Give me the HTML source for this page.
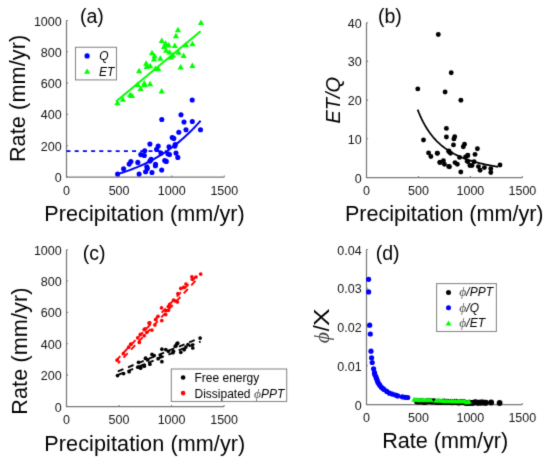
<!DOCTYPE html><html><head><meta charset="utf-8"><style>html,body{margin:0;padding:0;background:#fff}svg{display:block}</style></head><body><svg width="550" height="465" viewBox="0 0 550 465" font-family="'Liberation Sans', sans-serif">
<defs><filter id="bl" x="0" y="0" width="550" height="465" filterUnits="userSpaceOnUse" color-interpolation-filters="sRGB"><feConvolveMatrix order="3" kernelMatrix="0.0144 0.0912 0.0144 0.0912 0.5776 0.0912 0.0144 0.0912 0.0144" edgeMode="duplicate"/></filter></defs>
<rect width="550" height="465" fill="#fff"/>
<g filter="url(#bl)"><rect width="550" height="465" fill="#fff"/>
<path d="M66.5 20.5V177H224.3" fill="none" stroke="#7a7a7a" stroke-width="1.25"/>
<path d="M66.5 177v-1.6M119.1 177v-1.6M171.7 177v-1.6M224.3 177v-1.6M66.5 177h1.6M66.5 145.7h1.6M66.5 114.4h1.6M66.5 83.1h1.6M66.5 51.8h1.6M66.5 20.5h1.6" stroke="#7a7a7a" stroke-width="1.1"/>
<text x="66.5" y="194.6" text-anchor="middle" font-size="12.5" fill="#151515">0</text>
<text x="119.1" y="194.6" text-anchor="middle" font-size="12.5" fill="#151515">500</text>
<text x="171.7" y="194.6" text-anchor="middle" font-size="12.5" fill="#151515">1000</text>
<text x="224.3" y="194.6" text-anchor="middle" font-size="12.5" fill="#151515">1500</text>
<text x="61.7" y="182" text-anchor="end" font-size="12.5" fill="#151515">0</text>
<text x="61.7" y="150.7" text-anchor="end" font-size="12.5" fill="#151515">200</text>
<text x="61.7" y="119.4" text-anchor="end" font-size="12.5" fill="#151515">400</text>
<text x="61.7" y="88.1" text-anchor="end" font-size="12.5" fill="#151515">600</text>
<text x="61.7" y="56.8" text-anchor="end" font-size="12.5" fill="#151515">800</text>
<text x="61.7" y="25.5" text-anchor="end" font-size="12.5" fill="#151515">1000</text>
<path d="M66.5 151.1H166" stroke="#0000ff" stroke-width="1.6" stroke-dasharray="4 4.2"/>
<path d="M116 101.6L200.6 31.2" stroke="#00ff00" stroke-width="2"/>
<path d="M201 19.45L204.15 24.95H197.85ZM178 26.65L181.15 32.15H174.85ZM175.9 32.75L179.05 38.25H172.75ZM161.8 37.45L164.95 42.95H158.65ZM165.5 40.15L168.65 45.65H162.35ZM168.7 42.05L171.85 47.55H165.55ZM174.8 42.55L177.95 48.05H171.65ZM164.1 43.45L167.25 48.95H160.95ZM166.2 47.35L169.35 52.85H163.05ZM178.5 49.35L181.65 54.85H175.35ZM172.8 51.95L175.95 57.45H169.65ZM152 49.75L155.15 55.25H148.85ZM154.6 52.65L157.75 58.15H151.45ZM154 55.95L157.15 61.45H150.85ZM160.3 55.15L163.45 60.65H157.15ZM146.2 60.15L149.35 65.65H143.05ZM146.6 63.55L149.75 69.05H143.45ZM150.2 62.85L153.35 68.35H147.05ZM155.3 65.45L158.45 70.95H152.15ZM158.3 65.85L161.45 71.35H155.15ZM139.1 67.75L142.25 73.25H135.95ZM183.6 52.45L186.75 57.95H180.45ZM186 41.65L189.15 47.15H182.85ZM192.5 40.65L195.65 46.15H189.35ZM180.7 63.95L183.85 69.45H177.55ZM192.4 62.55L195.55 68.05H189.25ZM144.3 80.05L147.45 85.55H141.15ZM144.6 81.85L147.75 87.35H141.45ZM150.1 80.75L153.25 86.25H146.95ZM137.7 81.45L140.85 86.95H134.55ZM140.6 85.45L143.75 90.95H137.45ZM161.7 88.05L164.85 93.55H158.55ZM130.1 91.65L133.25 97.15H126.95ZM131.9 92.45L135.05 97.95H128.75ZM122.9 96.35L126.05 101.85H119.75ZM117.4 99.85L120.55 105.35H114.25ZM169.5 48.95L172.65 54.45H166.35ZM171 53.95L174.15 59.45H167.85Z" fill="#00ff00"/>
<g fill="#0000ff"><circle cx="192.2" cy="100" r="2.55"/><circle cx="181" cy="114.8" r="2.55"/><circle cx="161.8" cy="119.5" r="2.55"/><circle cx="184" cy="122" r="2.55"/><circle cx="192.3" cy="121.5" r="2.55"/><circle cx="186" cy="129.8" r="2.55"/><circle cx="200.5" cy="129.8" r="2.55"/><circle cx="178.8" cy="132.2" r="2.55"/><circle cx="172.2" cy="137.5" r="2.55"/><circle cx="173.8" cy="138.4" r="2.55"/><circle cx="158.2" cy="146.1" r="2.55"/><circle cx="156.6" cy="149.4" r="2.55"/><circle cx="169" cy="146.7" r="2.55"/><circle cx="175.2" cy="144.5" r="2.55"/><circle cx="174.9" cy="146.1" r="2.55"/><circle cx="160.9" cy="153.1" r="2.55"/><circle cx="167.9" cy="153.7" r="2.55"/><circle cx="169.5" cy="154.5" r="2.55"/><circle cx="176" cy="153.1" r="2.55"/><circle cx="177.8" cy="157.4" r="2.55"/><circle cx="164.7" cy="160.6" r="2.55"/><circle cx="166.3" cy="161.4" r="2.55"/><circle cx="155.5" cy="164.4" r="2.55"/><circle cx="161.7" cy="170" r="2.55"/><circle cx="149.9" cy="144.1" r="2.55"/><circle cx="144.7" cy="150.8" r="2.55"/><circle cx="140.8" cy="154.6" r="2.55"/><circle cx="144.3" cy="155.5" r="2.55"/><circle cx="130.9" cy="161.5" r="2.55"/><circle cx="129.2" cy="164.1" r="2.55"/><circle cx="137.8" cy="162.4" r="2.55"/><circle cx="123.6" cy="168.8" r="2.55"/><circle cx="117.6" cy="174" r="2.55"/><circle cx="139.1" cy="174" r="2.55"/><circle cx="151.1" cy="159.4" r="2.55"/><circle cx="149.9" cy="161.1" r="2.55"/><circle cx="155.4" cy="165.8" r="2.55"/><circle cx="146.8" cy="166.7" r="2.55"/><circle cx="147.3" cy="168.4" r="2.55"/><circle cx="145.6" cy="171.8" r="2.55"/><circle cx="152" cy="172.5" r="2.55"/></g>
<path d="M117.6 174.05L119.73 173.41L121.86 172.74L123.98 172.05L126.11 171.33L128.24 170.59L130.37 169.82L132.5 169.02L134.63 168.19L136.75 167.33L138.88 166.44L141.01 165.51L143.14 164.55L145.27 163.55L147.39 162.51L149.52 161.44L151.65 160.32L153.78 159.17L155.91 157.97L158.04 156.73L160.16 155.44L162.29 154.1L164.42 152.72L166.55 151.29L168.68 149.81L170.81 148.28L172.93 146.69L175.06 145.06L177.19 143.36L179.32 141.61L181.45 139.8L183.57 137.94L185.7 136.01L187.83 134.02L189.96 131.97L192.09 129.86L194.22 127.68L196.34 125.43L198.47 123.12L200.6 120.73" fill="none" stroke="#0000ff" stroke-width="2"/>
<rect x="75.5" y="47.3" width="41" height="32.6" fill="#fff" stroke="#8a8a8a" stroke-width="1.1"/>
<g fill="#0000ff"><circle cx="87.1" cy="55.9" r="2.6"/></g>
<path d="M87.1 68.4L90.2 73.8H84Z" fill="#00ff00"/>
<text x="99.3" y="60" font-size="12" font-style="italic" fill="#000">Q</text>
<text x="99.1" y="76" font-size="12" font-style="italic" fill="#000">ET</text>
<text x="79.9" y="22.5" font-size="19.5" fill="#000">(a)</text>
<text x="44.3" y="221.2" font-size="21.6" textLength="200.5" fill="#000">Precipitation (mm/yr)</text>
<text transform="translate(25.3 162.1) rotate(-90)" font-size="21.6" textLength="127.3" fill="#000">Rate (mm/yr)</text>
<path d="M366.5 22.7V177.5H522.4" fill="none" stroke="#7a7a7a" stroke-width="1.25"/>
<path d="M366.5 177.5v-1.6M418.47 177.5v-1.6M470.43 177.5v-1.6M522.4 177.5v-1.6M366.5 177.5h1.6M366.5 138.8h1.6M366.5 100.1h1.6M366.5 61.4h1.6M366.5 22.7h1.6" stroke="#7a7a7a" stroke-width="1.1"/>
<text x="366.5" y="195.1" text-anchor="middle" font-size="12.5" fill="#151515">0</text>
<text x="418.47" y="195.1" text-anchor="middle" font-size="12.5" fill="#151515">500</text>
<text x="470.43" y="195.1" text-anchor="middle" font-size="12.5" fill="#151515">1000</text>
<text x="522.4" y="195.1" text-anchor="middle" font-size="12.5" fill="#151515">1500</text>
<text x="361.7" y="182.5" text-anchor="end" font-size="12.5" fill="#151515">0</text>
<text x="361.7" y="143.8" text-anchor="end" font-size="12.5" fill="#151515">10</text>
<text x="361.7" y="105.1" text-anchor="end" font-size="12.5" fill="#151515">20</text>
<text x="361.7" y="66.4" text-anchor="end" font-size="12.5" fill="#151515">30</text>
<text x="361.7" y="27.7" text-anchor="end" font-size="12.5" fill="#151515">40</text>
<g fill="#000"><circle cx="438.3" cy="34.5" r="2.45"/><circle cx="451.2" cy="72.8" r="2.45"/><circle cx="417.8" cy="88.9" r="2.45"/><circle cx="445.1" cy="92" r="2.45"/><circle cx="460.9" cy="100.2" r="2.45"/><circle cx="446.4" cy="128.4" r="2.45"/><circle cx="446.4" cy="137" r="2.45"/><circle cx="454.7" cy="136.7" r="2.45"/><circle cx="453.9" cy="138.9" r="2.45"/><circle cx="453.5" cy="144.9" r="2.45"/><circle cx="464.5" cy="144.2" r="2.45"/><circle cx="463.3" cy="146.8" r="2.45"/><circle cx="449" cy="151" r="2.45"/><circle cx="450.5" cy="153.2" r="2.45"/><circle cx="467.8" cy="155.1" r="2.45"/><circle cx="465.6" cy="157" r="2.45"/><circle cx="459.6" cy="157.4" r="2.45"/><circle cx="475" cy="154.4" r="2.45"/><circle cx="437.3" cy="153.2" r="2.45"/><circle cx="439.8" cy="162.6" r="2.45"/><circle cx="443.4" cy="160.7" r="2.45"/><circle cx="444.4" cy="164.2" r="2.45"/><circle cx="449.5" cy="166.7" r="2.45"/><circle cx="455" cy="162.6" r="2.45"/><circle cx="457.3" cy="164.2" r="2.45"/><circle cx="460.8" cy="172" r="2.45"/><circle cx="467.9" cy="161.6" r="2.45"/><circle cx="469.9" cy="165.5" r="2.45"/><circle cx="423.5" cy="140" r="2.45"/><circle cx="428.6" cy="152.9" r="2.45"/><circle cx="430.9" cy="156.5" r="2.45"/><circle cx="437.4" cy="153.2" r="2.45"/><circle cx="440" cy="162.3" r="2.45"/><circle cx="448.7" cy="151.6" r="2.45"/><circle cx="448.7" cy="166.4" r="2.45"/><circle cx="477.4" cy="148.8" r="2.45"/><circle cx="467.7" cy="155.8" r="2.45"/><circle cx="467.2" cy="161.2" r="2.45"/><circle cx="472" cy="165.5" r="2.45"/><circle cx="474.1" cy="161.7" r="2.45"/><circle cx="478.4" cy="166.6" r="2.45"/><circle cx="480.1" cy="170.3" r="2.45"/><circle cx="484.4" cy="167.6" r="2.45"/><circle cx="490.8" cy="168.7" r="2.45"/><circle cx="490.8" cy="172.5" r="2.45"/><circle cx="500" cy="165" r="2.45"/></g>
<path d="M417.64 109.58L419 113L420.36 116.16L421.73 119.09L423.09 121.82L424.45 124.36L425.82 126.72L427.18 128.94L428.54 131.01L429.91 132.94L431.27 134.76L432.63 136.47L434 138.08L435.36 139.6L436.72 141.03L438.09 142.38L439.45 143.65L440.81 144.86L442.18 146L443.54 147.08L444.9 148.11L446.27 149.09L447.63 150.02L448.99 150.9L450.36 151.74L451.72 152.54L453.09 153.31L454.45 154.04L455.81 154.73L457.18 155.4L458.54 156.04L459.9 156.65L461.27 157.23L462.63 157.79L463.99 158.33L465.36 158.84L466.72 159.34L468.08 159.81L469.45 160.27L470.81 160.71L472.17 161.13L473.54 161.53L474.9 161.93L476.26 162.3L477.63 162.67L478.99 163.02L480.35 163.35L481.72 163.68L483.08 164L484.44 164.3L485.81 164.59L487.17 164.88L488.54 165.15L489.9 165.42L491.26 165.68L492.63 165.93L493.99 166.17L495.35 166.4L496.72 166.63L498.08 166.85" fill="none" stroke="#000" stroke-width="1.8"/>
<text x="378.0" y="22.5" font-size="19.5" fill="#000">(b)</text>
<text x="345" y="221.2" font-size="21.6" textLength="198.5" fill="#000">Precipitation (mm/yr)</text>
<text transform="translate(339.5 123.5) rotate(-90)" font-size="20" font-style="italic" fill="#000">ET/Q</text>
<path d="M66.5 249.7V406.5H224.1" fill="none" stroke="#7a7a7a" stroke-width="1.25"/>
<path d="M66.5 406.5v-1.6M119.03 406.5v-1.6M171.57 406.5v-1.6M224.1 406.5v-1.6M66.5 406.5h1.6M66.5 375.14h1.6M66.5 343.78h1.6M66.5 312.42h1.6M66.5 281.06h1.6M66.5 249.7h1.6" stroke="#7a7a7a" stroke-width="1.1"/>
<text x="66.5" y="424.1" text-anchor="middle" font-size="12.5" fill="#151515">0</text>
<text x="119.03" y="424.1" text-anchor="middle" font-size="12.5" fill="#151515">500</text>
<text x="171.57" y="424.1" text-anchor="middle" font-size="12.5" fill="#151515">1000</text>
<text x="224.1" y="424.1" text-anchor="middle" font-size="12.5" fill="#151515">1500</text>
<text x="61.7" y="411.5" text-anchor="end" font-size="12.5" fill="#151515">0</text>
<text x="61.7" y="380.14" text-anchor="end" font-size="12.5" fill="#151515">200</text>
<text x="61.7" y="348.78" text-anchor="end" font-size="12.5" fill="#151515">400</text>
<text x="61.7" y="317.42" text-anchor="end" font-size="12.5" fill="#151515">600</text>
<text x="61.7" y="286.06" text-anchor="end" font-size="12.5" fill="#151515">800</text>
<text x="61.7" y="254.7" text-anchor="end" font-size="12.5" fill="#151515">1000</text>
<g fill="none" stroke-width="1.9" stroke-dasharray="6 5">
<path d="M116.2 360.5L199.4 272.9" stroke="#ff0000"/><path d="M118.1 363.4L198.7 277.4" stroke="#ff0000" stroke-dashoffset="3"/>
<path d="M117.8 371.4L201 337.6" stroke="#000"/><path d="M116.5 375.5L200.6 341.6" stroke="#000" stroke-dashoffset="-1"/>
</g>
<g fill="#ff0000"><circle cx="200.7" cy="274.1" r="1.85"/><circle cx="191.9" cy="276.8" r="1.85"/><circle cx="192.4" cy="279.2" r="1.85"/><circle cx="180.8" cy="288.4" r="1.85"/><circle cx="183.7" cy="287.4" r="1.85"/><circle cx="177.9" cy="293.7" r="1.85"/><circle cx="173.6" cy="300" r="1.85"/><circle cx="175.5" cy="301" r="1.85"/><circle cx="177.4" cy="302" r="1.85"/><circle cx="169.7" cy="304.4" r="1.85"/><circle cx="161.5" cy="307.8" r="1.85"/><circle cx="165.8" cy="310.7" r="1.85"/><circle cx="168.3" cy="306.5" r="1.85"/><circle cx="161.8" cy="320.6" r="1.85"/><circle cx="155.8" cy="319.4" r="1.85"/><circle cx="158" cy="316.3" r="1.85"/><circle cx="149.8" cy="322.8" r="1.85"/><circle cx="154.9" cy="325" r="1.85"/><circle cx="151.9" cy="330.1" r="1.85"/><circle cx="145.1" cy="328.8" r="1.85"/><circle cx="146.8" cy="332.3" r="1.85"/><circle cx="144.2" cy="335.7" r="1.85"/><circle cx="140.3" cy="334.4" r="1.85"/><circle cx="137.7" cy="337.8" r="1.85"/><circle cx="165.7" cy="314.6" r="1.85"/><circle cx="168.3" cy="310.3" r="1.85"/><circle cx="149" cy="323.1" r="1.85"/><circle cx="144.2" cy="329.6" r="1.85"/><circle cx="139.3" cy="342.4" r="1.85"/><circle cx="131.1" cy="344.1" r="1.85"/><circle cx="128.7" cy="347.2" r="1.85"/><circle cx="130.7" cy="344.4" r="1.85"/><circle cx="123.3" cy="353.7" r="1.85"/><circle cx="117.2" cy="360.2" r="1.85"/><circle cx="186" cy="284" r="1.85"/><circle cx="196" cy="277" r="1.85"/></g>
<g fill="#000"><circle cx="161.9" cy="349.2" r="1.85"/><circle cx="165.8" cy="349.6" r="1.85"/><circle cx="168.4" cy="351.3" r="1.85"/><circle cx="177" cy="343.6" r="1.85"/><circle cx="175.3" cy="346.2" r="1.85"/><circle cx="173.5" cy="351.3" r="1.85"/><circle cx="152" cy="354.4" r="1.85"/><circle cx="154.2" cy="355.6" r="1.85"/><circle cx="160.6" cy="355.6" r="1.85"/><circle cx="145.6" cy="358.2" r="1.85"/><circle cx="147.7" cy="360" r="1.85"/><circle cx="158.1" cy="358.7" r="1.85"/><circle cx="161.9" cy="361.7" r="1.85"/><circle cx="149.9" cy="364.2" r="1.85"/><circle cx="144.3" cy="365.1" r="1.85"/><circle cx="140.9" cy="367.7" r="1.85"/><circle cx="200.1" cy="338.1" r="1.85"/><circle cx="192.4" cy="345" r="1.85"/><circle cx="192.8" cy="348" r="1.85"/><circle cx="185.9" cy="347.1" r="1.85"/><circle cx="184.2" cy="349.7" r="1.85"/><circle cx="177.7" cy="343.2" r="1.85"/><circle cx="176" cy="345.8" r="1.85"/><circle cx="180.8" cy="352.3" r="1.85"/><circle cx="173" cy="352.7" r="1.85"/><circle cx="117.5" cy="375.6" r="1.85"/><circle cx="123.6" cy="373.6" r="1.85"/><circle cx="129.1" cy="371.7" r="1.85"/><circle cx="138.5" cy="362.3" r="1.85"/><circle cx="137.8" cy="367.2" r="1.85"/><circle cx="140.4" cy="368.1" r="1.85"/><circle cx="144.3" cy="366.2" r="1.85"/><circle cx="145.6" cy="358.5" r="1.85"/><circle cx="188" cy="344.5" r="1.85"/></g>
<rect x="171.3" y="369" width="115.4" height="32.5" fill="#fff" stroke="#8a8a8a" stroke-width="1.1"/>
<g fill="#000"><circle cx="183.1" cy="377.5" r="2.3"/></g>
<g fill="#ff0000"><circle cx="183.1" cy="393.1" r="2.3"/></g>
<text x="194.5" y="381.9" font-size="12" fill="#000">Free energy</text>
<text x="194.5" y="397.7" font-size="12" fill="#000">Dissipated <tspan font-family="Liberation Serif, serif" font-style="italic" font-size="13.5" fill="#555">ϕ</tspan><tspan font-style="italic">PPT</tspan></text>
<text x="82.7" y="260.4" font-size="19.5" fill="#000">(c)</text>
<text x="44.3" y="450.6" font-size="21.6" textLength="201" fill="#000">Precipitation (mm/yr)</text>
<text transform="translate(26.7 414.8) rotate(-90)" font-size="21.6" textLength="127.3" fill="#000">Rate (mm/yr)</text>
<path d="M366.5 249.5V404.5H522.3" fill="none" stroke="#7a7a7a" stroke-width="1.25"/>
<path d="M366.5 404.5v-1.6M418.43 404.5v-1.6M470.37 404.5v-1.6M522.3 404.5v-1.6M366.5 404.5h1.6M366.5 365.75h1.6M366.5 327h1.6M366.5 288.25h1.6M366.5 249.5h1.6" stroke="#7a7a7a" stroke-width="1.1"/>
<text x="366.5" y="422.1" text-anchor="middle" font-size="12.5" fill="#151515">0</text>
<text x="418.43" y="422.1" text-anchor="middle" font-size="12.5" fill="#151515">500</text>
<text x="470.37" y="422.1" text-anchor="middle" font-size="12.5" fill="#151515">1000</text>
<text x="522.3" y="422.1" text-anchor="middle" font-size="12.5" fill="#151515">1500</text>
<text x="361.7" y="409.5" text-anchor="end" font-size="12.5" fill="#151515">0</text>
<text x="361.7" y="370.75" text-anchor="end" font-size="12.5" fill="#151515">0.01</text>
<text x="361.7" y="332" text-anchor="end" font-size="12.5" fill="#151515">0.02</text>
<text x="361.7" y="293.25" text-anchor="end" font-size="12.5" fill="#151515">0.03</text>
<text x="361.7" y="254.5" text-anchor="end" font-size="12.5" fill="#151515">0.04</text>
<g fill="#000"><circle cx="417" cy="401.46" r="2.9"/><circle cx="418.68" cy="401.68" r="2.9"/><circle cx="420.37" cy="401.22" r="2.9"/><circle cx="422.05" cy="401.51" r="2.9"/><circle cx="423.73" cy="402.01" r="2.9"/><circle cx="425.41" cy="402.04" r="2.9"/><circle cx="427.1" cy="401.15" r="2.9"/><circle cx="428.78" cy="401.28" r="2.9"/><circle cx="430.46" cy="401.13" r="2.9"/><circle cx="432.15" cy="401.63" r="2.9"/><circle cx="433.83" cy="401.17" r="2.9"/><circle cx="435.51" cy="401.72" r="2.9"/><circle cx="437.2" cy="401.98" r="2.9"/><circle cx="438.88" cy="401.57" r="2.9"/><circle cx="440.56" cy="402.08" r="2.9"/><circle cx="442.24" cy="402.01" r="2.9"/><circle cx="443.93" cy="401.37" r="2.9"/><circle cx="445.61" cy="402.04" r="2.9"/><circle cx="447.29" cy="401.72" r="2.9"/><circle cx="448.98" cy="401.94" r="2.9"/><circle cx="450.66" cy="401.81" r="2.9"/><circle cx="452.34" cy="402.34" r="2.9"/><circle cx="454.02" cy="402.07" r="2.9"/><circle cx="455.71" cy="401.76" r="2.9"/><circle cx="457.39" cy="402.26" r="2.9"/><circle cx="459.07" cy="402.58" r="2.9"/><circle cx="460.76" cy="402.04" r="2.9"/><circle cx="462.44" cy="401.98" r="2.9"/><circle cx="464.12" cy="402.21" r="2.9"/><circle cx="465.8" cy="402.9" r="2.9"/><circle cx="467.49" cy="402.98" r="2.9"/><circle cx="469.17" cy="402.65" r="2.9"/><circle cx="470.85" cy="402.96" r="2.9"/><circle cx="472.54" cy="402.93" r="2.9"/><circle cx="474.22" cy="402.4" r="2.9"/><circle cx="475.9" cy="402.09" r="2.9"/><circle cx="477.59" cy="402.8" r="2.9"/><circle cx="479.27" cy="402.71" r="2.9"/><circle cx="480.95" cy="402.51" r="2.9"/><circle cx="482.63" cy="402.38" r="2.9"/><circle cx="484.32" cy="402.63" r="2.9"/><circle cx="486" cy="402.74" r="2.9"/><circle cx="491.2" cy="402.5" r="2.9"/><circle cx="499.6" cy="403" r="2.9"/></g>
<g fill="#0000ff"><circle cx="368.6" cy="279.3" r="2.6"/><circle cx="368.6" cy="291.9" r="2.6"/><circle cx="369.7" cy="325.2" r="2.6"/><circle cx="370.3" cy="334" r="2.6"/><circle cx="371" cy="351.2" r="2.6"/><circle cx="371.6" cy="357.8" r="2.6"/><circle cx="372.2" cy="362.5" r="2.6"/><circle cx="373.6" cy="368.8" r="2.6"/><circle cx="374.5" cy="372.7" r="2.6"/><circle cx="375.9" cy="376.8" r="2.6"/><circle cx="377.3" cy="380.5" r="2.6"/><circle cx="379.1" cy="384.1" r="2.6"/><circle cx="381.4" cy="387.3" r="2.6"/><circle cx="384.1" cy="389.5" r="2.6"/><circle cx="386.8" cy="391.4" r="2.6"/><circle cx="389.5" cy="393.2" r="2.6"/><circle cx="392.3" cy="394.1" r="2.6"/><circle cx="395.5" cy="395" r="2.6"/><circle cx="397.7" cy="395.9" r="2.6"/><circle cx="402.3" cy="396.8" r="2.6"/><circle cx="405" cy="397.3" r="2.6"/><circle cx="407.7" cy="397.5" r="2.6"/><circle cx="374.8" cy="374.5" r="2.6"/><circle cx="376.5" cy="378.5" r="2.6"/><circle cx="378" cy="382.5" r="2.6"/><circle cx="380" cy="385.5" r="2.6"/><circle cx="383" cy="388.5" r="2.6"/></g>
<path d="M414 396.82L416.8 401.62H411.2ZM415.89 396.91L418.69 401.71H413.09ZM417.78 397.11L420.58 401.91H414.98ZM419.67 397.5L422.47 402.3H416.87ZM421.56 397.36L424.36 402.16H418.76ZM423.44 397.19L426.24 401.99H420.64ZM425.33 397.25L428.13 402.05H422.53ZM427.22 397.47L430.02 402.27H424.42ZM429.11 397.34L431.91 402.14H426.31ZM431 397.41L433.8 402.21H428.2ZM436 397.85L438.8 402.65H433.2ZM437.94 397.58L440.74 402.38H435.14ZM439.88 397.97L442.68 402.77H437.08ZM441.82 397.95L444.62 402.75H439.02ZM443.76 398.3L446.56 403.1H440.96ZM445.71 398.4L448.51 403.2H442.91ZM447.65 398.43L450.45 403.23H444.85ZM449.59 398.5L452.39 403.3H446.79ZM451.53 398.32L454.33 403.12H448.73ZM453.47 398.63L456.27 403.43H450.67ZM455.41 398.45L458.21 403.25H452.61ZM457.35 398.71L460.15 403.51H454.55ZM459.29 398.58L462.09 403.38H456.49ZM461.24 398.75L464.04 403.55H458.44ZM463.18 398.52L465.98 403.32H460.38ZM465.12 398.74L467.92 403.54H462.32ZM467.06 399.39L469.86 404.19H464.26ZM469 398.87L471.8 403.67H466.2Z" fill="#00ff00"/>
<rect x="436.6" y="283.6" width="59.8" height="47.9" fill="#fff" stroke="#8a8a8a" stroke-width="1.1"/>
<g fill="#000"><circle cx="448.5" cy="292.5" r="2.5"/></g>
<g fill="#0000ff"><circle cx="448.5" cy="307.7" r="2.5"/></g>
<path d="M448.5 320.5L451.5 325.5H445.5Z" fill="#00ff00"/>
<text x="459.3" y="296.3" font-size="12" font-style="italic" fill="#000"><tspan font-family="Liberation Serif, serif" font-style="italic" font-size="13.5" fill="#555">ϕ</tspan>/PPT</text>
<text x="459.3" y="311.8" font-size="12" font-style="italic" fill="#000"><tspan font-family="Liberation Serif, serif" font-style="italic" font-size="13.5" fill="#555">ϕ</tspan>/Q</text>
<text x="459.3" y="327.1" font-size="12" font-style="italic" fill="#000"><tspan font-family="Liberation Serif, serif" font-style="italic" font-size="13.5" fill="#555">ϕ</tspan>/ET</text>
<text x="375.7" y="260.1" font-size="19.5" fill="#000">(d)</text>
<text x="382.2" y="448" font-size="21.6" fill="#000">Rate (mm/yr)</text>
<g transform="translate(329.4 343.5) rotate(-90)" font-size="21.6"><text x="0.2" y="0" font-family="Liberation Serif, serif" font-style="italic" fill="#444">ϕ</text><text x="12.3" y="0" fill="#000">/</text><text transform="translate(17.5 0) scale(1.22 1)" fill="#000">X</text></g>
</g></svg></body></html>
